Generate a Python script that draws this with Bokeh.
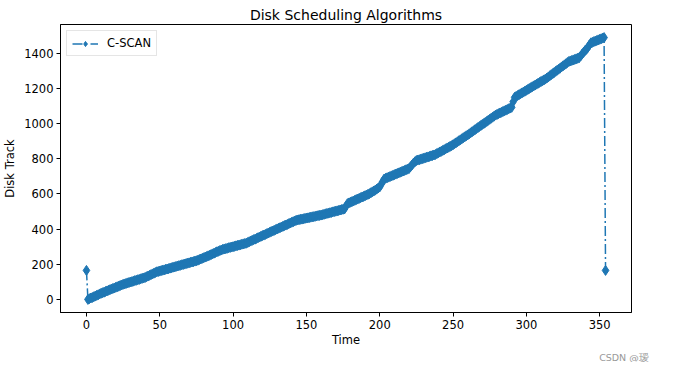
from bokeh.plotting import figure
from bokeh.models import Range1d, FixedTicker, Title
from bokeh.embed import file_html
from bokeh.resources import INLINE

# Disk track visited at each time step (C-SCAN)
track = [
    165,
    0, 4, 8, 11, 15, 19, 23, 26, 31, 35,
    38, 41, 45, 48, 52, 55, 59, 62, 65, 69, 72, 75, 79, 82, 86,
    88, 91, 94, 96, 99, 101, 104, 107, 109, 112, 114, 117, 120, 122, 125,
    129, 133, 137, 141, 145, 149, 153, 157,
    159, 161, 164, 166, 168, 171, 173, 175, 178, 180, 183, 185,
    187, 190, 192, 194, 197, 199, 201, 204, 206, 208, 211, 213, 215, 218, 220,
    223, 227, 230, 234, 237, 241, 244, 248, 251, 255,
    259, 263, 267, 271, 274, 278, 281, 285,
    287, 289, 291, 294, 296, 298, 300,
    302, 305, 307, 309, 311, 314, 316, 318, 320,
    324, 328, 332, 336, 340, 343, 347, 351, 355, 359, 363, 366, 370, 374, 378, 382, 386, 389, 393, 397,
    401, 405, 408, 412, 416, 420, 423, 427, 431, 435, 439, 442, 446, 450,
    452, 454, 456, 457, 459, 461, 463, 464, 466, 468, 470, 471, 473, 475, 477, 478, 480,
    482, 484, 487, 489, 491, 493, 495, 498, 500, 502, 504, 506, 509, 511, 513, 515,
    530, 545,
    549, 553, 556, 560, 564, 568, 571, 575, 579, 583, 586, 590,
    594, 598, 602, 607, 612, 617, 622, 628, 634, 640,
    655, 670, 685,
    689, 692, 696, 699, 703, 706, 710,
    713, 717, 720, 724, 727, 731, 734, 738, 741, 745,
    755, 765, 775, 783, 790,
    793, 795, 798, 801, 803, 806, 809, 811, 814, 817, 819, 822, 825,
    830, 834, 839, 843, 848, 852, 857, 862, 866, 871, 875, 880,
    886, 891, 897, 903, 908, 914, 920, 925, 931, 936, 942,
    948, 954, 960, 966, 972, 978, 984, 990, 996, 1001, 1007, 1013, 1019, 1025, 1031, 1037, 1043, 1049,
    1053, 1057, 1061, 1065, 1069, 1073, 1077, 1081, 1085, 1089, 1093,
    1125, 1150,
    1155, 1160, 1165, 1170, 1175, 1180, 1185, 1190,
    1195, 1200, 1205, 1210, 1215, 1220, 1225, 1230, 1235, 1240, 1244, 1249, 1254,
    1260, 1266, 1273, 1279, 1285, 1291, 1298, 1304, 1310, 1316, 1323, 1329, 1335, 1341, 1348, 1354,
    1357, 1360, 1363, 1366, 1369, 1372, 1375,
    1385, 1396, 1406, 1416, 1423, 1435, 1448, 1460,
    1463, 1467, 1470, 1473, 1477, 1480, 1483, 1487, 1490,
    165,
]
time = list(range(len(track)))

x_ticks = [0, 50, 100, 150, 200, 250, 300, 350]
y_ticks = [0, 200, 400, 600, 800, 1000, 1200, 1400]
series_name = "C-SCAN"
title_text = "Disk Scheduling Algorithms"
x_label = "Time"
y_label = "Disk Track"
watermark = "CSDN @瑷_"

BLUE = "#1f77b4"
FONT = "DejaVu Sans"

xpad = 0.05 * (max(time) - min(time))
ypad = 0.05 * (max(track) - min(track))

p = figure(
    width=660, height=362,
    output_backend="svg", toolbar_location=None,
    title=title_text,
    x_range=Range1d(min(time) - xpad, max(time) + xpad),
    y_range=Range1d(min(track) - ypad, max(track) + ypad),
    min_border_left=56, min_border_right=29, min_border_top=24, min_border_bottom=0,
    background_fill_color="white", border_fill_color="white",
)

p.line(time, track, line_color=BLUE, line_width=1.5, line_dash="10 3 2 3",
       legend_label=series_name)
p.scatter(time, track, marker="diamond", size=10, fill_color=BLUE, line_color=BLUE,
          legend_label=series_name)

p.title.text_font = FONT
p.title.text_font_size = "14px"
p.title.text_font_style = "normal"
p.title.text_color = "black"
p.title.align = "center"
p.title.standoff = 3

p.grid.visible = False
p.outline_line_color = "black"
p.outline_line_width = 1
p.outline_line_alpha = 1

p.xaxis.ticker = FixedTicker(ticks=x_ticks)
p.yaxis.ticker = FixedTicker(ticks=y_ticks)
p.xaxis.axis_label = x_label
p.yaxis.axis_label = y_label
for ax in (p.xaxis, p.yaxis):
    ax.major_label_text_font = FONT
    ax.major_label_text_font_size = "11.5px"
    ax.major_label_text_color = "black"
    ax.axis_label_text_font = FONT
    ax.axis_label_text_font_size = "11.5px"
    ax.axis_label_text_font_style = "normal"
    ax.axis_label_text_color = "black"
    ax.minor_tick_line_color = None
    ax.major_tick_in = 0
    ax.major_tick_out = 4
    ax.major_tick_line_color = "black"
    ax.axis_line_color = "black"
    ax.major_label_standoff = 3
    ax.axis_label_standoff = 4
p.xaxis.axis_label_standoff = 1

p.legend.location = "top_left"
p.legend.margin = 6
p.legend.padding = 5
p.legend.spacing = 0
p.legend.glyph_width = 26
p.legend.glyph_height = 13
p.legend.label_height = 13
p.legend.label_standoff = 9
p.legend.label_text_font = FONT
p.legend.label_text_font_size = "11.5px"
p.legend.label_text_color = "black"
p.legend.border_line_color = "#cccccc"
p.legend.border_line_width = 1
p.legend.background_fill_alpha = 0.8

wm = Title(text=watermark, align="right", text_font=FONT, text_font_size="9.5px",
           text_font_style="normal", text_color="#999999", standoff=0, offset=-22,
           padding=0, text_line_height=0.9)
p.add_layout(wm, "below")

open("out.html", "w").write(file_html(p, INLINE))
